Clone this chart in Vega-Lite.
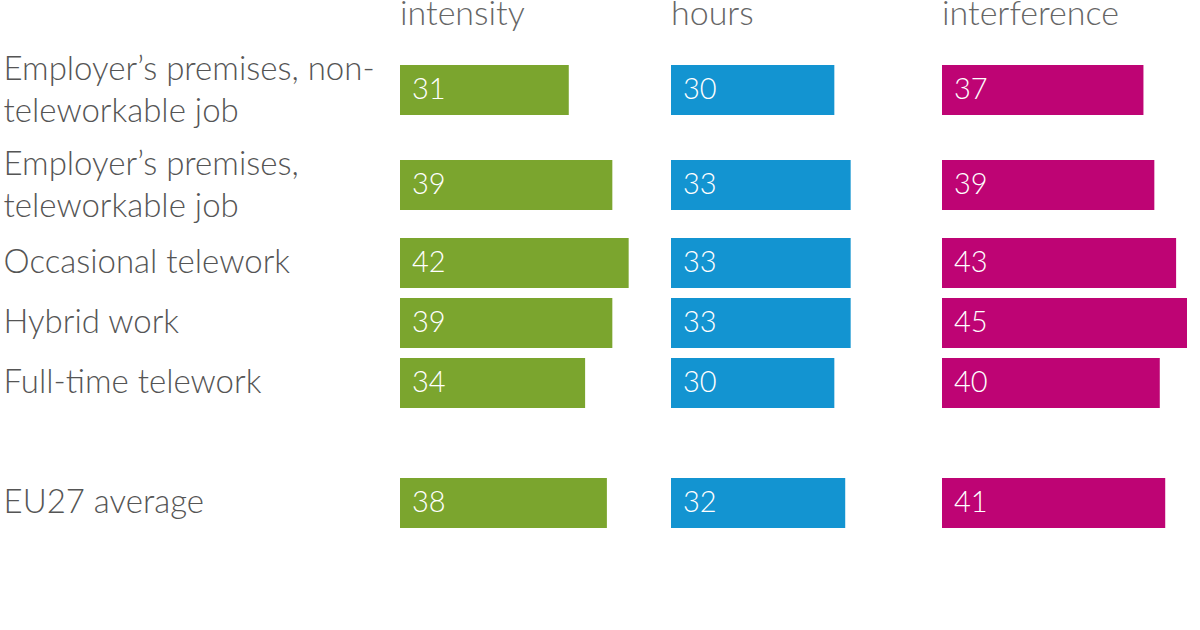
{
  "$schema": "https://vega.github.io/schema/vega-lite/v6.json",
  "background": "white",
  "padding": {"left": 3, "top": -2, "right": 0, "bottom": 0},
  "spacing": 0,
  "config": {
    "view": {"stroke": null},
    "font": "Lato",
    "title": {"anchor": "start", "frame": "group", "font": "Lato", "fontSize": 34, "fontWeight": 300, "color": "#666666", "baseline": "alphabetic", "offset": 13},
    "axisY": {"title": null, "ticks": false, "domain": false, "grid": false, "labelAlign": "left", "labelBaseline": "middle", "labelPadding": 397, "labelLimit": 0, "labelFont": "Lato", "labelFontSize": 33, "labelFontWeight": 300, "labelColor": "#555555", "labelLineHeight": 42, "labelExpr": "split(datum.label, '\\n')"},
    "concat": {"spacing": 26},
    "bar": {"height": 50},
    "text": {"align": "left", "baseline": "middle", "dx": 12, "color": "white", "fontSize": 29, "fontWeight": 300, "font": "Lato"}
  },
  "data": {"values": [
    {"key": "nontele", "label": "Employer’s premises, non-\nteleworkable job", "measure": "intensity", "value": 31},
    {"key": "nontele", "label": "Employer’s premises, non-\nteleworkable job", "measure": "hours", "value": 30},
    {"key": "nontele", "label": "Employer’s premises, non-\nteleworkable job", "measure": "interference", "value": 37},
    {"key": "tele", "label": "Employer’s premises,\nteleworkable job", "measure": "intensity", "value": 39},
    {"key": "tele", "label": "Employer’s premises,\nteleworkable job", "measure": "hours", "value": 33},
    {"key": "tele", "label": "Employer’s premises,\nteleworkable job", "measure": "interference", "value": 39},
    {"key": "occasional", "label": "Occasional telework", "measure": "intensity", "value": 42},
    {"key": "occasional", "label": "Occasional telework", "measure": "hours", "value": 33},
    {"key": "occasional", "label": "Occasional telework", "measure": "interference", "value": 43},
    {"key": "hybrid", "label": "Hybrid work", "measure": "intensity", "value": 39},
    {"key": "hybrid", "label": "Hybrid work", "measure": "hours", "value": 33},
    {"key": "hybrid", "label": "Hybrid work", "measure": "interference", "value": 45},
    {"key": "fulltime", "label": "Full-time telework", "measure": "intensity", "value": 34},
    {"key": "fulltime", "label": "Full-time telework", "measure": "hours", "value": 30},
    {"key": "fulltime", "label": "Full-time telework", "measure": "interference", "value": 40},
    {"key": "eu27", "label": "EU27 average", "measure": "intensity", "value": 38},
    {"key": "eu27", "label": "EU27 average", "measure": "hours", "value": 32},
    {"key": "eu27", "label": "EU27 average", "measure": "interference", "value": 41}
  ]},
  "vconcat": [
    {"hconcat": [
      {"title": "intensity", "width": 245, "height": 90, "transform": [{"filter": "datum.key === 'nontele' && datum.measure === 'intensity'"}],
       "encoding": {"y": {"field": "label", "type": "nominal", "axis": {"labelOffset": -20}}, "x": {"field": "value", "type": "quantitative", "scale": {"domain": [0, 45]}, "axis": null}},
       "layer": [{"mark": {"type": "bar", "color": "#7ba52e"}}, {"mark": "text", "encoding": {"x": {"datum": 0}, "text": {"field": "value"}}}]},
      {"title": "hours", "width": 245, "height": 90, "transform": [{"filter": "datum.key === 'nontele' && datum.measure === 'hours'"}],
       "encoding": {"y": {"field": "label", "type": "nominal", "axis": null}, "x": {"field": "value", "type": "quantitative", "scale": {"domain": [0, 45]}, "axis": null}},
       "layer": [{"mark": {"type": "bar", "color": "#1394d1"}}, {"mark": "text", "encoding": {"x": {"datum": 0}, "text": {"field": "value"}}}]},
      {"title": "interference", "width": 245, "height": 90, "transform": [{"filter": "datum.key === 'nontele' && datum.measure === 'interference'"}],
       "encoding": {"y": {"field": "label", "type": "nominal", "axis": null}, "x": {"field": "value", "type": "quantitative", "scale": {"domain": [0, 45]}, "axis": null}},
       "layer": [{"mark": {"type": "bar", "color": "#be0474"}}, {"mark": "text", "encoding": {"x": {"datum": 0}, "text": {"field": "value"}}}]}
    ]},
    {"hconcat": [
      {"width": 245, "height": 100, "transform": [{"filter": "datum.key === 'tele' && datum.measure === 'intensity'"}],
       "encoding": {"y": {"field": "label", "type": "nominal", "axis": {"labelOffset": -20}}, "x": {"field": "value", "type": "quantitative", "scale": {"domain": [0, 45]}, "axis": null}},
       "layer": [{"mark": {"type": "bar", "color": "#7ba52e"}}, {"mark": "text", "encoding": {"x": {"datum": 0}, "text": {"field": "value"}}}]},
      {"width": 245, "height": 100, "transform": [{"filter": "datum.key === 'tele' && datum.measure === 'hours'"}],
       "encoding": {"y": {"field": "label", "type": "nominal", "axis": null}, "x": {"field": "value", "type": "quantitative", "scale": {"domain": [0, 45]}, "axis": null}},
       "layer": [{"mark": {"type": "bar", "color": "#1394d1"}}, {"mark": "text", "encoding": {"x": {"datum": 0}, "text": {"field": "value"}}}]},
      {"width": 245, "height": 100, "transform": [{"filter": "datum.key === 'tele' && datum.measure === 'interference'"}],
       "encoding": {"y": {"field": "label", "type": "nominal", "axis": null}, "x": {"field": "value", "type": "quantitative", "scale": {"domain": [0, 45]}, "axis": null}},
       "layer": [{"mark": {"type": "bar", "color": "#be0474"}}, {"mark": "text", "encoding": {"x": {"datum": 0}, "text": {"field": "value"}}}]}
    ]},
    {"hconcat": [
      {"width": 245, "height": 56, "transform": [{"filter": "datum.key === 'occasional' && datum.measure === 'intensity'"}],
       "encoding": {"y": {"field": "label", "type": "nominal"}, "x": {"field": "value", "type": "quantitative", "scale": {"domain": [0, 45]}, "axis": null}},
       "layer": [{"mark": {"type": "bar", "color": "#7ba52e"}}, {"mark": "text", "encoding": {"x": {"datum": 0}, "text": {"field": "value"}}}]},
      {"width": 245, "height": 56, "transform": [{"filter": "datum.key === 'occasional' && datum.measure === 'hours'"}],
       "encoding": {"y": {"field": "label", "type": "nominal", "axis": null}, "x": {"field": "value", "type": "quantitative", "scale": {"domain": [0, 45]}, "axis": null}},
       "layer": [{"mark": {"type": "bar", "color": "#1394d1"}}, {"mark": "text", "encoding": {"x": {"datum": 0}, "text": {"field": "value"}}}]},
      {"width": 245, "height": 56, "transform": [{"filter": "datum.key === 'occasional' && datum.measure === 'interference'"}],
       "encoding": {"y": {"field": "label", "type": "nominal", "axis": null}, "x": {"field": "value", "type": "quantitative", "scale": {"domain": [0, 45]}, "axis": null}},
       "layer": [{"mark": {"type": "bar", "color": "#be0474"}}, {"mark": "text", "encoding": {"x": {"datum": 0}, "text": {"field": "value"}}}]}
    ]},
    {"hconcat": [
      {"width": 245, "height": 64, "transform": [{"filter": "datum.key === 'hybrid' && datum.measure === 'intensity'"}],
       "encoding": {"y": {"field": "label", "type": "nominal"}, "x": {"field": "value", "type": "quantitative", "scale": {"domain": [0, 45]}, "axis": null}},
       "layer": [{"mark": {"type": "bar", "color": "#7ba52e"}}, {"mark": "text", "encoding": {"x": {"datum": 0}, "text": {"field": "value"}}}]},
      {"width": 245, "height": 64, "transform": [{"filter": "datum.key === 'hybrid' && datum.measure === 'hours'"}],
       "encoding": {"y": {"field": "label", "type": "nominal", "axis": null}, "x": {"field": "value", "type": "quantitative", "scale": {"domain": [0, 45]}, "axis": null}},
       "layer": [{"mark": {"type": "bar", "color": "#1394d1"}}, {"mark": "text", "encoding": {"x": {"datum": 0}, "text": {"field": "value"}}}]},
      {"width": 245, "height": 64, "transform": [{"filter": "datum.key === 'hybrid' && datum.measure === 'interference'"}],
       "encoding": {"y": {"field": "label", "type": "nominal", "axis": null}, "x": {"field": "value", "type": "quantitative", "scale": {"domain": [0, 45]}, "axis": null}},
       "layer": [{"mark": {"type": "bar", "color": "#be0474"}}, {"mark": "text", "encoding": {"x": {"datum": 0}, "text": {"field": "value"}}}]}
    ]},
    {"hconcat": [
      {"width": 245, "height": 56, "transform": [{"filter": "datum.key === 'fulltime' && datum.measure === 'intensity'"}],
       "encoding": {"y": {"field": "label", "type": "nominal"}, "x": {"field": "value", "type": "quantitative", "scale": {"domain": [0, 45]}, "axis": null}},
       "layer": [{"mark": {"type": "bar", "color": "#7ba52e"}}, {"mark": "text", "encoding": {"x": {"datum": 0}, "text": {"field": "value"}}}]},
      {"width": 245, "height": 56, "transform": [{"filter": "datum.key === 'fulltime' && datum.measure === 'hours'"}],
       "encoding": {"y": {"field": "label", "type": "nominal", "axis": null}, "x": {"field": "value", "type": "quantitative", "scale": {"domain": [0, 45]}, "axis": null}},
       "layer": [{"mark": {"type": "bar", "color": "#1394d1"}}, {"mark": "text", "encoding": {"x": {"datum": 0}, "text": {"field": "value"}}}]},
      {"width": 245, "height": 56, "transform": [{"filter": "datum.key === 'fulltime' && datum.measure === 'interference'"}],
       "encoding": {"y": {"field": "label", "type": "nominal", "axis": null}, "x": {"field": "value", "type": "quantitative", "scale": {"domain": [0, 45]}, "axis": null}},
       "layer": [{"mark": {"type": "bar", "color": "#be0474"}}, {"mark": "text", "encoding": {"x": {"datum": 0}, "text": {"field": "value"}}}]}
    ]},
    {"hconcat": [
      {"width": 245, "height": 184, "transform": [{"filter": "datum.key === 'eu27' && datum.measure === 'intensity'"}],
       "encoding": {"y": {"field": "label", "type": "nominal"}, "x": {"field": "value", "type": "quantitative", "scale": {"domain": [0, 45]}, "axis": null}},
       "layer": [{"mark": {"type": "bar", "color": "#7ba52e"}}, {"mark": "text", "encoding": {"x": {"datum": 0}, "text": {"field": "value"}}}]},
      {"width": 245, "height": 184, "transform": [{"filter": "datum.key === 'eu27' && datum.measure === 'hours'"}],
       "encoding": {"y": {"field": "label", "type": "nominal", "axis": null}, "x": {"field": "value", "type": "quantitative", "scale": {"domain": [0, 45]}, "axis": null}},
       "layer": [{"mark": {"type": "bar", "color": "#1394d1"}}, {"mark": "text", "encoding": {"x": {"datum": 0}, "text": {"field": "value"}}}]},
      {"width": 245, "height": 184, "transform": [{"filter": "datum.key === 'eu27' && datum.measure === 'interference'"}],
       "encoding": {"y": {"field": "label", "type": "nominal", "axis": null}, "x": {"field": "value", "type": "quantitative", "scale": {"domain": [0, 45]}, "axis": null}},
       "layer": [{"mark": {"type": "bar", "color": "#be0474"}}, {"mark": "text", "encoding": {"x": {"datum": 0}, "text": {"field": "value"}}}]}
    ]}
  ]
}
